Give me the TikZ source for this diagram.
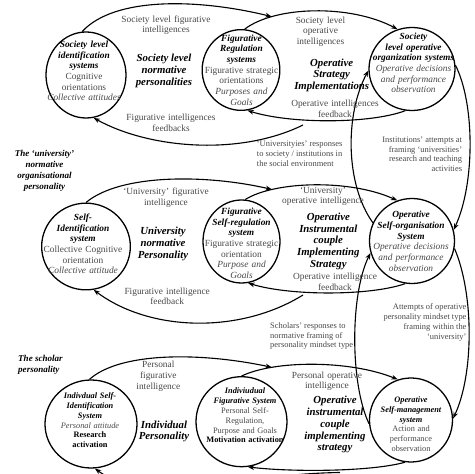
\documentclass[tikz,border=0pt]{standalone}
\usepackage{fontspec}
\setmainfont{Liberation Serif}
\usetikzlibrary{arrows.meta, shapes.geometric}

\newcommand{\boldit}[1]{{\bfseries\itshape\color{black}#1}}
\newcommand{\boldup}[1]{{\bfseries\color{black}#1}}

\begin{document}
\begin{tikzpicture}[x=0.03cm, y=0.03cm,
    ring/.style={draw, ellipse, line width=1.1pt, inner sep=0pt},
    body/.style={align=center, text width=3.2cm, text=black!72, font=\fontsize{8}{9.1}\selectfont},
    bodysmall/.style={align=center, text width=3.2cm, text=black!72, font=\fontsize{7.1}{8.4}\selectfont},
    sidelabel/.style={inner sep=0pt, text=black!72, font=\fontsize{7.2}{8.4}\selectfont},
    heading/.style={align=center, font=\fontsize{9.2}{10.1}\selectfont\bfseries\itshape},
    rowlabel/.style={font=\fontsize{7.7}{9.2}\selectfont\bfseries\itshape},
    flowline/.style={line width=0.95pt, -{Stealth[length=5.5pt, width=4pt]}}]
  \clip (0,0) rectangle (474,474);

  % Circles
  \node[ring, minimum width=2.40cm, minimum height=2.58cm] (c11) at (86,399)    {};
  \node[ring, minimum width=2.33cm, minimum height=2.42cm] (c12) at (241,404)   {};
  \node[ring, minimum width=2.58cm, minimum height=2.49cm] (c13) at (412,405)   {};
  \node[ring, minimum width=2.66cm, minimum height=2.60cm] (c21) at (86,227.5)  {};
  \node[ring, minimum width=2.31cm, minimum height=2.49cm] (c22) at (241.5,232.5) {};
  \node[ring, minimum width=2.55cm, minimum height=2.55cm] (c23) at (412,233)   {};
  \node[ring, minimum width=2.76cm, minimum height=2.64cm] (c31) at (91,50)     {};
  \node[ring, minimum width=2.73cm, minimum height=2.70cm] (c32) at (241.5,52.3) {};
  \node[ring, minimum width=2.49cm, minimum height=2.52cm] (c33) at (411,54)    {};

  % Free ends of the feedback lines
  \coordinate (s1) at (303,349);
  \coordinate (s2) at (303,179);
  \coordinate (s3) at (340,1.5);

  % Connections, society level
  \draw[flowline] (c12.85) .. controls (275,468) and (350,470) .. (c13.110) coordinate[pos=0.23] (m1);
  \draw[flowline] (c11.95) .. controls (115,478) and (200,475) .. (m1);
  \draw[flowline] (c13.-99) .. controls (370,350) and (290,350) .. (c12.-81);
  \draw[flowline] (s1) .. controls (240,318) and (150,325) .. (c11.-80);

  % Connections, university level
  \draw[flowline] (c22.85) .. controls (275,293) and (350,295) .. (c23.110) coordinate[pos=0.23] (m2);
  \draw[flowline] (c21.90) .. controls (120,300) and (205,300) .. (m2);
  \draw[flowline] (c23.-99) .. controls (370,178) and (290,178) .. (c22.-81);
  \draw[flowline] (s2) .. controls (240,140) and (150,142) .. (c21.-80);

  % Connections, scholar level
  \draw[flowline] (c32.90) .. controls (275,114) and (350,114) .. (c33.108) coordinate[pos=0.24] (m3);
  \draw[flowline] (c31.92) .. controls (120,122) and (200,122) .. (m3);
  \draw[flowline] (c33.-98) .. controls (370,2) and (290,2) .. (c32.-82);
  \draw[flowline] (s3) .. controls (230,0) and (150,-35) .. (c31.-85);

  % Connections between levels
  \draw[flowline] (c23.155) .. controls (345,290) and (345,360) .. (c13.182);
  \draw[flowline] (c13.5) .. controls (475,370) and (475,290) .. (c23.15);
  \draw[flowline] (c33.185) .. controls (350,90) and (350,180) .. (c23.196);
  \draw[flowline] (c23.-10) .. controls (474,180) and (474,100) .. (c33.2);

  % Circle texts
  \node[body] (t11) at (84,403) {\boldit{Society level\\identification\\systems}\\Cognitive\\orientations\\\textit{Collective attitudes}};
  \node[body] (t12) at (241.5,404) {\boldit{Figurative\\Regulation\\systems}\\Figurative strategic\\orientations\\\textit{Purposes and\\Goals}};
  \node[body] (t13) at (413.5,411) {\boldit{Society\\level operative\\organization systems}\\\textit{Operative decisions\\and performance\\observation}};
  \node[body] (t21) at (83,230) {\boldit{Self-\\Identification\\system}\\Collective Cognitive\\orientation\\\textit{Collective attitude}};
  \node[body] (t22) at (241.5,230.7) {\boldit{Figurative\\Self-regulation\\system}\\Figurative strategic\\orientation\\\textit{Purpose and\\Goals}};
  \node[body] (t23) at (411,232.7) {\boldit{Operative\\Self-organisation\\System}\\\textit{Operative decisions\\and performance\\observation}};
  \node[bodysmall] (t31) at (90,53.7) {\boldit{Indivdual Self-\\Identification\\System}\\\textit{Personal attitude}\\\boldup{Research\\activation}};
  \node[bodysmall] (t32) at (245,58.5) {\boldit{Indiviudual\\Figurative System}\\Personal Self-\\Regulation,\\Purpose and Goals\\\boldup{Motivation activation}};
  \node[bodysmall] (t33) at (411,49.8) {\boldit{Operative\\Self-management\\system}\\Action and\\performance\\observation};

  % Labels, society level
  \node[body] (l1a) at (166,448.7) {Society level figurative\\intelligences};
  \node[heading] (l1b) at (164,403) {Society level\\normative\\personalities};
  \node[body] (l1c) at (171,351.2) {Figurative intelligences\\feedbacks};
  \node[body] (l1d) at (320.5,442.5) {Society level\\operative\\intelligences};
  \node[heading] (l1e) at (331.7,398.7) {Operative\\Strategy\\Implementations};
  \node[body] (l1f) at (335,365.2) {Operative intelligences\\feedback};
  \node[sidelabel, align=left, anchor=west] (l1g) at (256.7,320.4) {`Universityies' responses\\to society / institutions in\\the social environment};
  \node[sidelabel, align=right, anchor=east] (l1h) at (462.3,319.8) {Institutions' attempts at\\framing `universities'\\research and teaching\\activities};

  % Labels, university level
  \node[rowlabel, align=center] (r2) at (44.5,303) {The `university'\\normative\\organisational\\personality};
  \node[body] (l2a) at (166,276.2) {`University' figurative\\intelligence};
  \node[heading] (l2b) at (163,230.2) {University\\normative\\Personality};
  \node[body] (l2c) at (167.2,177.7) {Figurative intelligence\\feedback};
  \node[body] (l2d) at (323,277.5) {`University'\\operative intelligence};
  \node[heading] (l2e) at (328.3,232.7) {Operative\\Instrumental\\couple\\Implementing\\Strategy};
  \node[body] (l2f) at (335,192) {Operative intelligence\\feedback};
  \node[sidelabel, align=left, anchor=west] (l2g) at (270,138) {Scholars' responses to\\normative framing of\\personality mindset type};
  \node[sidelabel, align=right, anchor=east] (l2h) at (466.7,151.7) {Attempts of operative\\personality mindset type\\framing within the\\`university'};

  % Labels, scholar level
  \node[rowlabel, align=left, anchor=west, inner sep=0pt] (r3) at (18,109.5) {The scholar\\personality};
  \node[body] (l3a) at (158.3,97.9) {Personal\\figurative\\intelligence};
  \node[heading] (l3b) at (164,42.5) {Individual\\Personality};
  \node[body] (l3c) at (327,92.8) {Personal operative\\intelligence};
  \node[heading] (l3d) at (335,49.3) {Operative\\instrumental\\couple\\implementing\\strategy};
\end{tikzpicture}
\end{document}
